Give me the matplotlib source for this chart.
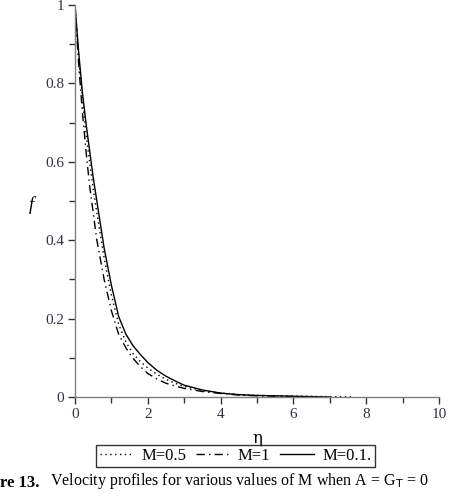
import matplotlib
matplotlib.use("Agg")
import matplotlib.pyplot as plt
from matplotlib.ticker import MultipleLocator

# Data
eta_m01 = [0, 0.1, 0.2, 0.3, 0.4, 0.5, 0.6, 0.8, 1.0, 1.2, 1.4, 1.6, 1.8, 2.0, 2.25,
           2.5, 2.75, 3.0, 3.5, 4.0, 4.5, 5.0, 6.0, 7.0]
f_m01 = [1.0, 0.88, 0.78, 0.70, 0.63, 0.56, 0.50, 0.38, 0.285, 0.205, 0.16, 0.13, 0.108,
         0.088, 0.068, 0.053, 0.041, 0.030, 0.018, 0.010, 0.006, 0.004, 0.002, 0.0]

eta_m05 = [0, 0.1, 0.2, 0.3, 0.4, 0.5, 0.6, 0.8, 1.0, 1.2, 1.4, 1.6, 1.8, 2.0, 2.25,
           2.5, 2.75, 3.0, 3.5, 4.0, 4.5, 5.0, 6.0, 7.0, 7.6]
f_m05 = [1.0, 0.87, 0.765, 0.675, 0.60, 0.53, 0.47, 0.355, 0.26, 0.185, 0.14, 0.11, 0.09,
         0.074, 0.058, 0.045, 0.035, 0.027, 0.016, 0.010, 0.006, 0.004, 0.002, 0.001, 0.0]

eta_m1 = [0, 0.1, 0.2, 0.3, 0.4, 0.5, 0.6, 0.8, 1.0, 1.2, 1.4, 1.6, 1.8, 2.0, 2.25,
          2.5, 2.75, 3.0, 3.5, 4.0, 4.5, 5.0, 6.0, 6.5]
f_m1 = [1.0, 0.85, 0.73, 0.63, 0.54, 0.47, 0.40, 0.30, 0.22, 0.16, 0.125, 0.098, 0.077,
        0.060, 0.046, 0.035, 0.028, 0.022, 0.014, 0.009, 0.005, 0.003, 0.001, 0.0]

labels = ["M=0.5", "M=1", "M=0.1."]
xticks = [0, 2, 4, 6, 8, 10]
yticks = [0, 0.2, 0.4, 0.6, 0.8, 1]
ytick_labels = ["0", "0.2", "0.4", "0.6", "0.8", "1"]

plt.rcParams['font.family'] = ['Liberation Serif', 'DejaVu Serif']

fig = plt.figure(figsize=(4.74, 4.93), dpi=100)
ax = fig.add_axes([75/474, (493-397)/493, 364/474, 392/493])

ax.plot(eta_m05, f_m05, color='black', lw=1.0, linestyle=(0, (1, 2.5)), label=labels[0])
ax.plot(eta_m1, f_m1, color='black', lw=1.0, linestyle=(0, (6, 3, 1, 3)), label=labels[1])
ax.plot(eta_m01, f_m01, color='black', lw=1.0, linestyle='-', label=labels[2])

ax.set_xlim(0, 10)
ax.set_ylim(0, 1)
ax.set_xticks(xticks)
ax.set_yticks(yticks)
ax.set_yticklabels(ytick_labels)
ax.xaxis.set_minor_locator(MultipleLocator(1))
ax.yaxis.set_minor_locator(MultipleLocator(0.1))
for s in ['top', 'right']:
    ax.spines[s].set_visible(False)
for s in ['left', 'bottom']:
    ax.spines[s].set_color('#808080')
    ax.spines[s].set_linewidth(1.0)
ax.tick_params(which='major', length=5, width=1, color='#333333', labelsize=11,
               labelcolor='#333344', pad=3)
ax.tick_params(which='minor', length=4, width=1, color='#333333')

ax.set_xlabel("η", fontsize=12, labelpad=2, family=['DejaVu Serif'])
ax.set_ylabel("f", fontsize=13, style='italic', rotation=0, va='center', ha='center')
ax.yaxis.set_label_coords(-0.12, 0.49)
ax.xaxis.set_label_coords(0.5, -0.085)

leg = fig.legend(loc='center', bbox_to_anchor=(235.5/474, (493-456)/493), ncol=3,
                 frameon=True, fancybox=False, edgecolor='black', fontsize=12,
                 handlelength=2.0, handletextpad=0.5, columnspacing=0.6,
                 borderpad=0.2, borderaxespad=0)
leg.get_frame().set_linewidth(1.0)

fig.text(0.0, 2/493, "re 13.", fontsize=12, fontweight='bold', va='bottom', ha='left')
fig.text(50/474, 2/493, "Velocity profiles for various values of M when A = G$_\\mathrm{T}$ = 0",
         fontsize=11.5, va='bottom', ha='left')

fig.savefig("out.png", dpi=100)
